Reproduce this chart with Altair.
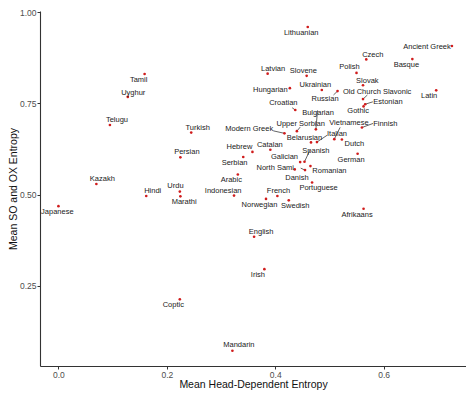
import altair as alt
import pandas as pd

languages = ["Lithuanian", "Ancient Greek", "Czech", "Basque", "Latvian", "Slovene", "Polish", "Slovak",
             "Hungarian", "Ukrainian", "Russian", "Latin", "Old Church Slavonic", "Estonian", "Gothic",
             "Croatian", "Bulgarian", "Upper Sorbian", "Modern Greek", "Finnish", "Vietnamese", "Dutch",
             "Italian", "Belarusian", "Catalan", "Hebrew", "Serbian", "German", "Galician", "Spanish",
             "Romanian", "North Sami", "Danish", "Arabic", "Portuguese", "Indonesian", "French",
             "Norwegian", "Swedish", "Afrikaans", "English", "Irish", "Mandarin", "Coptic", "Japanese",
             "Hindi", "Urdu", "Marathi", "Kazakh", "Tamil", "Uyghur", "Telugu", "Turkish", "Persian"]

head_dep = [0.460, 0.726, 0.568, 0.653, 0.386, 0.458, 0.550, 0.562, 0.427, 0.486, 0.515, 0.697, 0.562,
            0.566, 0.563, 0.437, 0.475, 0.440, 0.417, 0.560, 0.509, 0.523, 0.477, 0.466, 0.391, 0.358,
            0.341, 0.552, 0.446, 0.454, 0.465, 0.436, 0.455, 0.331, 0.468, 0.324, 0.404, 0.383, 0.425,
            0.563, 0.361, 0.380, 0.321, 0.224, 0.000, 0.162, 0.224, 0.225, 0.070, 0.159, 0.128, 0.095,
            0.245, 0.225]

so_ox = [0.960, 0.908, 0.871, 0.872, 0.832, 0.826, 0.834, 0.800, 0.792, 0.787, 0.784, 0.786, 0.762,
         0.748, 0.742, 0.732, 0.679, 0.674, 0.668, 0.684, 0.652, 0.651, 0.644, 0.643, 0.623, 0.617,
         0.603, 0.612, 0.589, 0.590, 0.578, 0.569, 0.567, 0.555, 0.533, 0.497, 0.496, 0.488, 0.484,
         0.461, 0.384, 0.295, 0.071, 0.212, 0.468, 0.496, 0.508, 0.495, 0.529, 0.831, 0.768, 0.691,
         0.670, 0.602]

label_x = [0.448, 0.680, 0.580, 0.642, 0.396, 0.452, 0.537, 0.570, 0.391, 0.474, 0.492, 0.684, 0.588,
           0.608, 0.553, 0.415, 0.479, 0.447, 0.352, 0.603, 0.536, 0.546, 0.514, 0.454, 0.390, 0.334,
           0.325, 0.540, 0.417, 0.475, 0.500, 0.400, 0.440, 0.319, 0.480, 0.304, 0.406, 0.371, 0.437,
           0.551, 0.374, 0.368, 0.333, 0.212, -0.002, 0.174, 0.216, 0.232, 0.081, 0.148, 0.138, 0.108,
           0.257, 0.237]

label_y = [0.943, 0.906, 0.884, 0.856, 0.845, 0.838, 0.849, 0.813, 0.787, 0.802, 0.763, 0.771, 0.782,
           0.755, 0.728, 0.751, 0.724, 0.695, 0.679, 0.695, 0.697, 0.640, 0.667, 0.654, 0.637, 0.630,
           0.587, 0.595, 0.603, 0.620, 0.565, 0.574, 0.546, 0.540, 0.519, 0.510, 0.510, 0.472, 0.468,
           0.445, 0.398, 0.279, 0.086, 0.196, 0.452, 0.510, 0.522, 0.479, 0.542, 0.814, 0.780, 0.704,
           0.684, 0.616]

seg_lang = ["Russian", "Old Church Slavonic", "Estonian", "Bulgarian", "Modern Greek", "Finnish",
            "Vietnamese", "Italian", "Spanish", "Danish", "Upper Sorbian", "Croatian"]
seg_end_x = [0.5075, 0.5701, 0.5801, 0.4781, 0.3963, 0.5806, 0.5198, 0.4958, 0.4645, 0.447, 0.4461, 0.4313]
seg_end_y = [0.7734, 0.7734, 0.7545, 0.7311, 0.6749, 0.6952, 0.6844, 0.6628, 0.6231, 0.5724, 0.6852, 0.7383]

df = pd.DataFrame({"language": languages, "x": head_dep, "y": so_ox, "lx": label_x, "ly": label_y})
seg = pd.DataFrame({"language": seg_lang, "x2": seg_end_x, "y2": seg_end_y}).merge(
    df[["language", "x", "y"]], on="language")

FONT = "Liberation Sans"
xscale = alt.Scale(domain=[-0.034, 0.752], nice=False, zero=False)
yscale = alt.Scale(domain=[0.029, 1.004], nice=False, zero=False)
xaxis = alt.Axis(values=[0, 0.2, 0.4, 0.6], format=".1f", title="Mean Head-Dependent Entropy")
yaxis = alt.Axis(values=[0.25, 0.5, 0.75, 1.0], format=".2f", title="Mean SO and OX Entropy")


def X(field):
    return alt.X(field, type="quantitative", scale=xscale, axis=xaxis, title="Mean Head-Dependent Entropy")


def Y(field):
    return alt.Y(field, type="quantitative", scale=yscale, axis=yaxis, title="Mean SO and OX Entropy")


segments = alt.Chart(seg).mark_rule(color="#222222", strokeWidth=0.7).encode(
    x=X("x"), y=Y("y"), x2="x2:Q", y2="y2:Q")

points = alt.Chart(df).mark_circle(size=7, color="#d01c1c", opacity=1).encode(
    x=X("x"), y=Y("y"))

labels = alt.Chart(df).mark_text(fontSize=7.5, font=FONT, color="#1a1a1a",
                                 baseline="middle", align="center").encode(
    x=X("lx"), y=Y("ly"), text="language:N")

chart = alt.layer(segments, points, labels).properties(
    width=426, height=355, autosize="none",
    padding={"left": 32, "top": 3, "right": 0, "bottom": 28},
    background="white",
).configure_view(stroke=None).configure_axis(
    grid=False, domainColor="#333333", domainWidth=1.1, tickColor="#333333", tickSize=3,
    labelColor="#4d4d4d", labelFontSize=8.5, labelFont=FONT, labelPadding=1,
    titleFont=FONT, titleFontSize=10.5, titleFontWeight="normal", titleColor="#111111",
    titlePadding=1,
)

chart.save("out.html", embed_options={"renderer": "svg", "actions": False})
